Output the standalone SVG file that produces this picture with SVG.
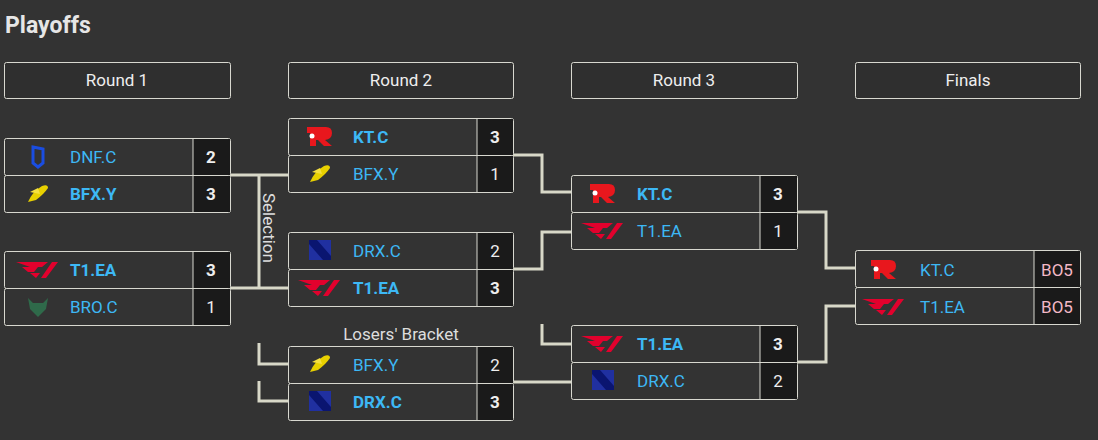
<svg xmlns="http://www.w3.org/2000/svg" width="1098" height="440" viewBox="0 0 1098 440">
<style>
text{font-family:"Roboto","Liberation Sans",sans-serif}
.hdr{fill:#2f2f2f;stroke:#d8d8d0;stroke-width:1}
.ht{fill:#eeeeee;font-size:17px;text-anchor:middle}
.row{fill:#333333;stroke:#d8d8d0;stroke-width:1}
.sc{fill:#1a1a1a}
.n{fill:#3db8f5;font-size:17px}
.b{font-weight:bold}
.s{fill:#eeeeee;font-size:17px;text-anchor:middle}
.bo{fill:#f2b8c6;font-size:17px;text-anchor:middle}
.ln{fill:none;stroke:#d8d8c8;stroke-width:3}
.lbl{fill:#dddddd;font-size:17px}
</style>
<defs>
<g id="kt"><path d="M-13,-9 H6 Q12,-9 12,-3 Q12,3 5,4 L12,10 H4 L-2,4 H-4 V10 H-10 V-3 H-13 Z" fill="#e8171d"/><circle cx="-8" cy="0" r="2.5" fill="#fff"/></g>
<g id="t1"><path d="M-22,-7 H10 L4,-2 H-8 Z M-16,-2 H0 L-4,3 H-10 Z M-8,4 H2 L-2,9 Z M14,-7 H20 L8,9 H3 Z" fill="#e2012d"/></g>
<g id="bfx"><path d="M-10,8 Q-6,-2 4,-8 Q10,-10 10,-6 Q6,0 -2,6 Z" fill="#e8d000"/><path d="M-8,-2 L0,-6 L2,0 Z" fill="#f5e040"/></g>
<g id="drx"><rect x="-11" y="-10" width="22" height="20" fill="#2030a0"/><path d="M-11,-10 H-3 L11,6 V10 H3 L-11,-6 Z" fill="#0a1570"/></g>
<g id="dnf"><path d="M-5,-10 L5,-8 V6 L0,10 L-5,6 Z" fill="none" stroke="#1a4de0" stroke-width="3"/></g>
<g id="bro"><path d="M-10,-9 L-5,-4 H5 L10,-9 L8,2 L0,10 L-8,2 Z" fill="#2f6a4a"/></g>
</defs>
<rect width="1098" height="440" fill="#333333"/>
<text x="5" y="33" font-size="23" font-weight="bold" fill="#e6e6e6">Playoffs</text>
<g id="headers">
<rect class="hdr" x="4.5" y="62.5" width="226" height="36" rx="2"/><text class="ht" x="117" y="86">Round 1</text>
<rect class="hdr" x="288.5" y="62.5" width="225" height="36" rx="2"/><text class="ht" x="401" y="86">Round 2</text>
<rect class="hdr" x="571.5" y="62.5" width="226" height="36" rx="2"/><text class="ht" x="684" y="86">Round 3</text>
<rect class="hdr" x="855.5" y="62.5" width="225" height="36" rx="2"/><text class="ht" x="968" y="86">Finals</text>
</g>
<g id="connectors">
<path class="ln" d="M230,175 H288 M230,288 H288 M259,175 V288"/>
<path class="ln" d="M513,155 H542 V192 H571 M513,269 H542 V232 H571"/>
<path class="ln" d="M797,212 H826 V268 H855 M797,362 H826 V306 H855"/>
<path class="ln" d="M259,343 V364 H288 M259,381 V401 H288 M542,324 V344 H571 M513,382 H571"/>
</g>
<text class="lbl" transform="translate(263,193) rotate(90)">Selection</text>
<text class="lbl" x="401" y="340" text-anchor="middle">Losers' Bracket</text>
<g id="r1m1">
<rect class="row" x="4.5" y="138.5" width="226" height="37" rx="2"/><rect class="sc" x="193" y="139" width="37" height="36"/><line x1="193" y1="139" x2="193" y2="175" stroke="#d8d8d0"/>
<use href="#dnf" x="38" y="157"/><text class="n" x="70" y="163">DNF.C</text><text class="s b" x="211" y="163">2</text>
<rect class="row" x="4.5" y="175.5" width="226" height="37" rx="2"/><rect class="sc" x="193" y="176" width="37" height="36"/><line x1="193" y1="176" x2="193" y2="212" stroke="#d8d8d0"/>
<use href="#bfx" x="38" y="194"/><text class="n b" x="70" y="200">BFX.Y</text><text class="s b" x="211" y="200">3</text>
</g>
<g id="r1m2">
<rect class="row" x="4.5" y="251.5" width="226" height="37" rx="2"/><rect class="sc" x="193" y="252" width="37" height="36"/><line x1="193" y1="252" x2="193" y2="288" stroke="#d8d8d0"/>
<use href="#t1" x="38" y="269"/><text class="n b" x="70" y="276">T1.EA</text><text class="s b" x="211" y="276">3</text>
<rect class="row" x="4.5" y="288.5" width="226" height="37" rx="2"/><rect class="sc" x="193" y="289" width="37" height="36"/><line x1="193" y1="289" x2="193" y2="325" stroke="#d8d8d0"/>
<use href="#bro" x="38" y="307"/><text class="n" x="70" y="313">BRO.C</text><text class="s" x="211" y="313">1</text>
</g>
<g id="r2m1">
<rect class="row" x="288.5" y="118.5" width="225" height="37" rx="2"/><rect class="sc" x="477" y="119" width="36" height="36"/><line x1="477" y1="119" x2="477" y2="155" stroke="#d8d8d0"/>
<use href="#kt" x="320" y="136"/><text class="n b" x="353" y="143">KT.C</text><text class="s b" x="495" y="143">3</text>
<rect class="row" x="288.5" y="155.5" width="225" height="37" rx="2"/><rect class="sc" x="477" y="156" width="36" height="36"/><line x1="477" y1="156" x2="477" y2="192" stroke="#d8d8d0"/>
<use href="#bfx" x="320" y="174"/><text class="n" x="353" y="180">BFX.Y</text><text class="s" x="495" y="180">1</text>
</g>
<g id="r2m2">
<rect class="row" x="288.5" y="232.5" width="225" height="37" rx="2"/><rect class="sc" x="477" y="233" width="36" height="36"/><line x1="477" y1="233" x2="477" y2="269" stroke="#d8d8d0"/>
<use href="#drx" x="320" y="250"/><text class="n" x="353" y="257">DRX.C</text><text class="s" x="495" y="257">2</text>
<rect class="row" x="288.5" y="269.5" width="225" height="37" rx="2"/><rect class="sc" x="477" y="270" width="36" height="36"/><line x1="477" y1="270" x2="477" y2="306" stroke="#d8d8d0"/>
<use href="#t1" x="320" y="287"/><text class="n b" x="353" y="294">T1.EA</text><text class="s b" x="495" y="294">3</text>
</g>
<g id="lbm">
<rect class="row" x="288.5" y="346.5" width="225" height="37" rx="2"/><rect class="sc" x="477" y="347" width="36" height="36"/><line x1="477" y1="347" x2="477" y2="383" stroke="#d8d8d0"/>
<use href="#bfx" x="320" y="364"/><text class="n" x="353" y="371">BFX.Y</text><text class="s" x="495" y="371">2</text>
<rect class="row" x="288.5" y="383.5" width="225" height="37" rx="2"/><rect class="sc" x="477" y="384" width="36" height="36"/><line x1="477" y1="384" x2="477" y2="420" stroke="#d8d8d0"/>
<use href="#drx" x="320" y="401"/><text class="n b" x="353" y="408">DRX.C</text><text class="s b" x="495" y="408">3</text>
</g>
<g id="r3m1">
<rect class="row" x="571.5" y="175.5" width="226" height="37" rx="2"/><rect class="sc" x="760" y="176" width="37" height="36"/><line x1="760" y1="176" x2="760" y2="212" stroke="#d8d8d0"/>
<use href="#kt" x="603" y="193"/><text class="n b" x="637" y="200">KT.C</text><text class="s b" x="778" y="200">3</text>
<rect class="row" x="571.5" y="212.5" width="226" height="37" rx="2"/><rect class="sc" x="760" y="213" width="37" height="36"/><line x1="760" y1="213" x2="760" y2="249" stroke="#d8d8d0"/>
<use href="#t1" x="603" y="230"/><text class="n" x="637" y="237">T1.EA</text><text class="s" x="778" y="237">1</text>
</g>
<g id="r3m2">
<rect class="row" x="571.5" y="325.5" width="226" height="37" rx="2"/><rect class="sc" x="760" y="326" width="37" height="36"/><line x1="760" y1="326" x2="760" y2="362" stroke="#d8d8d0"/>
<use href="#t1" x="603" y="343"/><text class="n b" x="637" y="350">T1.EA</text><text class="s b" x="778" y="350">3</text>
<rect class="row" x="571.5" y="362.5" width="226" height="37" rx="2"/><rect class="sc" x="760" y="363" width="37" height="36"/><line x1="760" y1="363" x2="760" y2="399" stroke="#d8d8d0"/>
<use href="#drx" x="603" y="380"/><text class="n" x="637" y="387">DRX.C</text><text class="s" x="778" y="387">2</text>
</g>
<g id="finals">
<rect class="row" x="855.5" y="250.5" width="225" height="37" rx="2"/><rect class="sc" x="1034" y="251" width="46" height="36"/><line x1="1034" y1="251" x2="1034" y2="287" stroke="#d8d8d0"/>
<use href="#kt" x="884" y="269"/><text class="n" x="920" y="276">KT.C</text><text class="bo" x="1057" y="276">BO5</text>
<rect class="row" x="855.5" y="287.5" width="225" height="37" rx="2"/><rect class="sc" x="1034" y="288" width="46" height="36"/><line x1="1034" y1="288" x2="1034" y2="324" stroke="#d8d8d0"/>
<use href="#t1" x="884" y="306"/><text class="n" x="920" y="313">T1.EA</text><text class="bo" x="1057" y="313">BO5</text>
</g>
</svg>
